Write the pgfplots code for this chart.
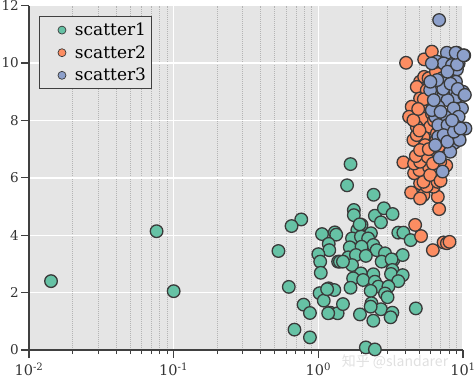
\documentclass[border=0pt]{standalone}
\usepackage{fontspec}
\setmainfont{DejaVu Serif}
\newfontfamily\cjk{Noto Sans CJK SC}
\usepackage{pgfplots}
\pgfplotsset{compat=1.18}
\definecolor{bggray}{HTML}{E5E5E5}
\definecolor{spine}{HTML}{404040}
\definecolor{edge}{HTML}{3A3A3A}
\definecolor{cA}{HTML}{66C2A5}
\definecolor{cB}{HTML}{FC8D62}
\definecolor{cC}{HTML}{8DA0CB}
\definecolor{mgrid}{HTML}{B4B4B4}

\pgfplotstableread{
x y
0.0142 2.40
0.0762 4.14
0.100 2.05
0.762 4.55
0.653 4.32
0.530 3.45
0.625 2.20
0.791 1.58
0.875 1.29
0.684 0.71
0.875 0.44
1.06 4.04
1.30 4.10
1.33 4.02
1.18 3.70
1.19 3.48
1.00 3.34
1.03 3.08
1.37 3.08
1.04 2.69
1.02 1.98
1.18 2.15
1.29 2.09
1.09 1.72
1.21 1.30
1.36 1.28
2.41 5.41
1.67 6.48
1.58 5.74
1.76 4.88
1.76 4.70
2.46 4.68
2.84 4.94
3.26 4.74
2.71 4.45
1.99 4.36
1.86 4.18
2.31 4.07
3.57 4.09
3.87 4.09
4.35 3.83
1.71 3.89
1.97 3.95
2.21 3.89
2.40 3.66
1.65 3.58
1.99 3.60
2.53 3.48
2.89 3.37
3.30 3.14
3.83 3.31
1.41 3.08
1.61 3.23
1.82 3.31
2.13 3.28
1.71 2.96
2.74 3.08
3.21 3.16
3.25 2.79
1.97 2.67
2.40 2.64
1.74 2.50
2.04 2.44
2.46 2.38
3.18 2.65
3.83 2.61
3.57 2.40
2.60 2.21
3.05 2.21
1.67 2.17
2.30 2.06
2.89 1.97
3.01 1.84
1.48 1.60
2.33 1.63
2.71 1.42
3.25 1.30
3.16 1.14
1.94 1.24
2.30 1.51
2.40 1.02
4.72 1.45
2.13 0.09
2.46 0.02
1.48 3.08
1.93 4.38
1.15 2.12
1.17 1.28
}\dataA

\pgfplotstableread{
x y
3.87 6.54
4.38 5.49
4.67 4.36
5.13 3.97
6.19 3.48
6.70 5.34
6.84 4.91
7.34 3.75
7.74 3.72
8.07 3.77
5.05 5.81
5.33 5.40
5.05 5.28
6.25 5.69
5.62 5.71
5.33 5.86
6.67 5.86
4.59 6.16
5.00 6.27
5.83 6.37
6.53 6.22
7.66 6.43
4.59 6.50
5.05 6.56
6.60 6.68
5.69 6.74
4.72 6.76
6.96 6.56
5.93 6.10
4.54 7.32
5.33 7.43
4.79 7.49
6.09 7.14
5.47 7.14
6.53 7.32
7.34 7.03
5.05 6.97
6.60 6.91
7.34 7.43
4.04 10.01
5.39 10.13
6.09 10.40
5.05 9.35
4.79 9.17
5.39 9.52
5.78 9.47
5.05 8.77
4.42 8.48
4.24 8.13
5.33 8.36
5.33 8.07
6.09 8.24
5.93 7.78
4.79 7.78
6.60 7.55
5.62 9.06
5.93 8.83
4.54 8.01
6.75 8.59
7.34 7.90
5.36 8.74
6.80 7.09
5.00 7.65
5.80 7.00
6.20 6.50
7.00 5.90
6.30 8.00
7.10 8.90
6.50 9.70
4.90 8.40
}\dataB

\pgfplotstableread{
x y
6.84 11.50
7.74 10.36
9.08 10.36
10.2 10.27
6.60 10.05
7.34 9.99
8.39 9.93
9.33 9.99
8.22 9.70
7.15 9.47
9.08 9.78
7.74 9.35
8.94 9.35
6.09 9.23
6.75 9.20
10.0 9.00
7.96 9.06
6.43 8.89
7.34 8.89
9.08 8.83
10.2 8.89
7.82 8.71
6.75 8.48
9.84 8.42
8.62 8.42
7.54 8.13
6.43 8.13
9.33 8.13
6.75 7.84
7.82 7.84
9.08 7.78
10.4 7.72
6.09 9.99
5.93 9.06
6.09 8.36
6.75 7.43
7.74 7.43
9.33 7.46
6.43 7.14
7.34 7.49
8.71 7.22
8.16 6.91
9.48 7.32
7.23 6.22
7.80 7.26
8.66 7.61
9.60 7.72
6.28 8.71
7.30 9.10
8.20 9.28
9.20 9.10
10.3 8.89
7.80 9.70
9.10 9.95
6.63 9.41
5.95 9.35
8.90 10.36
10.1 10.27
7.00 8.30
8.40 8.00
6.90 6.70
}\dataC

\begin{document}
\begin{tikzpicture}
\useasboundingbox (-29pt,-31pt) rectangle (445pt,350pt);
\begin{axis}[
  at={(0pt,0pt)}, anchor=south west,
  scale only axis, width=434pt, height=344.3pt,
  xmode=log, xmin=0.01, xmax=10, ymin=0, ymax=12,
  clip=false,
  axis background/.style={fill=bggray},
  axis lines=left,
  axis line style={-, draw=spine, line width=1.3pt},
  tick align=outside,
  major tick length=8pt, minor tick length=4pt,
  every tick/.style={draw=spine, line width=1.2pt},
  minor tick style={draw=spine, line width=0.9pt},
  xtick={0.01,0.1,1,10},
  xticklabels={10\textsuperscript{-2},10\textsuperscript{-1},10\textsuperscript{0},10\textsuperscript{1}},
  minor xtick={0.02,0.03,0.04,0.05,0.06,0.07,0.08,0.09,0.2,0.3,0.4,0.5,0.6,0.7,0.8,0.9,2,3,4,5,6,7,8,9},
  ytick={0,2,4,6,8,10,12},
  /pgf/number format/assume math mode=true,
  ticklabel style={font=\fontsize{13.5}{15}\selectfont, text=spine!80!black},
  yticklabel style={inner sep=1pt, xshift=-1pt},
  xticklabel style={yshift=-1pt, font=\fontsize{14.5}{16}\selectfont},
  xmajorgrids, ymajorgrids, xminorgrids,
  major grid style={draw=white, line width=1.4pt},
  minor grid style={draw=mgrid, line width=0.7pt, dash pattern=on 1pt off 1pt},
  legend cell align=left,
  legend style={at={(0.023,0.97)}, anchor=north west,
    draw=spine, line width=1pt, fill=bggray,
    font=\fontsize{17}{20}\selectfont,
    inner xsep=4pt, inner ysep=5pt, row sep=5.5pt,
    nodes={inner sep=1.5pt}},
]
\addplot[only marks, mark=*, mark size=6.3pt,
  mark options={fill=cA, draw=edge, line width=1.3pt},
  legend image code/.code={\path (-18pt,0pt) (11pt,0pt); \draw[fill=cA,draw=edge,line width=0.7pt] (0pt,0pt) circle (4pt);}]
  table[x=x,y=y] {\dataA};
\addlegendentry{scatter1}
\addplot[only marks, mark=*, mark size=6.3pt,
  mark options={fill=cB, draw=edge, line width=1.3pt},
  legend image code/.code={\path (-18pt,0pt) (11pt,0pt); \draw[fill=cB,draw=edge,line width=0.7pt] (0pt,0pt) circle (4pt);}]
  table[x=x,y=y] {\dataB};
\addlegendentry{scatter2}
\addplot[only marks, mark=*, mark size=6.3pt,
  mark options={fill=cC, draw=edge, line width=1.3pt},
  legend image code/.code={\path (-18pt,0pt) (11pt,0pt); \draw[fill=cC,draw=edge,line width=0.7pt] (0pt,0pt) circle (4pt);}]
  table[x=x,y=y] {\dataC};
\addlegendentry{scatter3}
\end{axis}
\node[text=white!88!black, font=\cjk\fontsize{14}{16}\selectfont] at (366pt,-12pt) {知乎 @slandarer};
\end{tikzpicture}
\end{document}
